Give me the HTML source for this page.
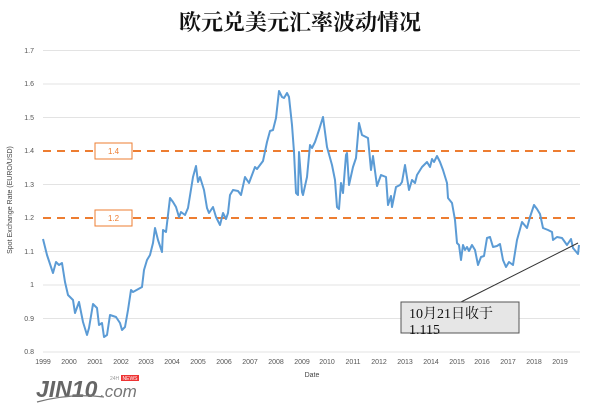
<!DOCTYPE html>
<html><head><meta charset="utf-8"><style>
body{margin:0;background:#fff;width:600px;height:415px;overflow:hidden}
</style></head><body>
<svg width="600" height="415" xmlns="http://www.w3.org/2000/svg" font-family="Liberation Sans, sans-serif">
<text x="300" y="30" text-anchor="middle" font-family="Liberation Serif, Noto Serif CJK SC, serif" font-weight="bold" font-size="22" fill="#111">欧元兑美元汇率波动情况</text>
<g stroke="#e3e3e3" stroke-width="1">
<line x1="43" x2="580" y1="50.5" y2="50.5"/><line x1="43" x2="580" y1="84" y2="84"/><line x1="43" x2="580" y1="117.5" y2="117.5"/>
<line x1="43" x2="580" y1="184.5" y2="184.5"/><line x1="43" x2="580" y1="251.5" y2="251.5"/>
<line x1="43" x2="580" y1="285" y2="285"/><line x1="43" x2="580" y1="318.5" y2="318.5"/><line x1="43" x2="580" y1="352" y2="352"/>
</g>
<g font-size="7" fill="#555" text-anchor="end">
<text x="34" y="53">1.7</text><text x="34" y="86">1.6</text><text x="34" y="120">1.5</text><text x="34" y="153">1.4</text><text x="34" y="187">1.3</text><text x="34" y="220">1.2</text><text x="34" y="254">1.1</text><text x="34" y="287">1</text><text x="34" y="321">0.9</text><text x="34" y="354">0.8</text>
</g>
<g font-size="7" fill="#555" text-anchor="middle">
<text x="43" y="364">1999</text><text x="69" y="364">2000</text><text x="95" y="364">2001</text><text x="121" y="364">2002</text><text x="146" y="364">2003</text><text x="172" y="364">2004</text><text x="198" y="364">2005</text><text x="224" y="364">2006</text><text x="250" y="364">2007</text><text x="276" y="364">2008</text><text x="302" y="364">2009</text><text x="327" y="364">2010</text><text x="353" y="364">2011</text><text x="379" y="364">2012</text><text x="405" y="364">2013</text><text x="431" y="364">2014</text><text x="457" y="364">2015</text><text x="482" y="364">2016</text><text x="508" y="364">2017</text><text x="534" y="364">2018</text><text x="560" y="364">2019</text>
</g>
<text x="312" y="377" font-size="7" fill="#444" text-anchor="middle">Date</text>
<text transform="translate(12,200) rotate(-90)" font-size="7" fill="#444" text-anchor="middle">Spot Exchange Rate (EURO/USD)</text>
<g stroke="#ed7d31" stroke-width="2" stroke-dasharray="8,6">
<line x1="43" x2="94" y1="151" y2="151"/><line x1="133" x2="580" y1="151" y2="151"/>
<line x1="43" x2="94" y1="218" y2="218"/><line x1="133" x2="580" y1="218" y2="218"/>
</g>
<rect x="95" y="143" width="37" height="16" fill="#fff" stroke="#ed7d31"/>
<text x="113.5" y="154" font-size="8" fill="#ed7d31" text-anchor="middle">1.4</text>
<rect x="95" y="210" width="37" height="16" fill="#fff" stroke="#ed7d31"/>
<text x="113.5" y="221" font-size="8" fill="#ed7d31" text-anchor="middle">1.2</text>
<polyline fill="none" stroke="#5b9bd5" stroke-width="2" stroke-linejoin="round" points="43,239 47,255 53,273 56,262 59,265 62,263 65,282 68,295 73,300 75,313 79,302 83,322 87,335 89,328 93,304 97,308 99,325 102,323 104,337 107,335 110,315 116,317 120,323 122,330 125,327 128,310 131,290 133,292 142,287 144,270 147,260 150,255 153,243 155,228 158,240 162,252 163,230 166,232 170,198 173,202 176,207 179,217 181,212 185,215 188,208 193,177 196,166 198,182 200,177 204,190 207,208 209,213 213,207 216,217 220,225 223,213 226,219 228,213 230,195 233,190 238,191 241,195 245,177 249,183 255,167 257,169 263,161 267,142 270,131 273,130 276,118 279,91 282,97 284,98 287,93 289,97 292,125 294,152 296,193 298,195 299,152 302,192 303,195 307,177 310,145 312,148 315,142 319,130 323,117 327,147 332,165 335,180 337,207 339,209 341,183 343,193 346,155 347,153 349,185 353,167 356,158 359,123 362,135 368,138 371,170 373,156 377,186 381,175 386,177 388,205 391,196 392,207 396,187 400,185 402,182 405,165 409,190 412,180 415,183 417,175 422,167 427,162 430,167 432,159 434,162 437,156 440,162 443,170 447,183 448,198 452,203 455,220 457,243 459,245 461,260 463,245 465,250 467,247 469,251 472,245 475,250 478,265 481,257 484,256 487,238 490,237 493,247 497,246 500,244 503,260 506,267 509,262 513,265 517,240 522,222 527,228 530,217 534,205 537,209 540,214 543,228 548,230 552,232 553,240 557,237 562,238 567,245 571,239 573,248 578,254 579,245"/>
<line x1="461" y1="302" x2="578" y2="243" stroke="#333" stroke-width="1"/>
<rect x="401" y="302" width="118" height="31" fill="#e6e6e6" stroke="#555"/>
<text x="409" y="318" font-family="Liberation Serif, Noto Serif CJK SC, serif" font-size="14" fill="#111">10月21日收于</text>
<text x="409" y="334" font-family="Liberation Serif, Noto Serif CJK SC, serif" font-size="14" fill="#111">1.115</text>
<text x="36" y="397" font-size="23" font-weight="bold" font-style="italic" fill="#666">JIN10</text>
<text x="100" y="397" font-size="17" font-style="italic" fill="#777">.com</text>
<text x="110" y="380" font-size="5" fill="#999">24H</text>
<rect x="121" y="375" width="18" height="6" fill="#e33"/>
<text x="130" y="380" font-size="5" fill="#fff" text-anchor="middle">NEWS</text>
<path d="M37,402 Q70,393 104,397" stroke="#777" stroke-width="1.2" fill="none"/>
</svg>
</body></html>
